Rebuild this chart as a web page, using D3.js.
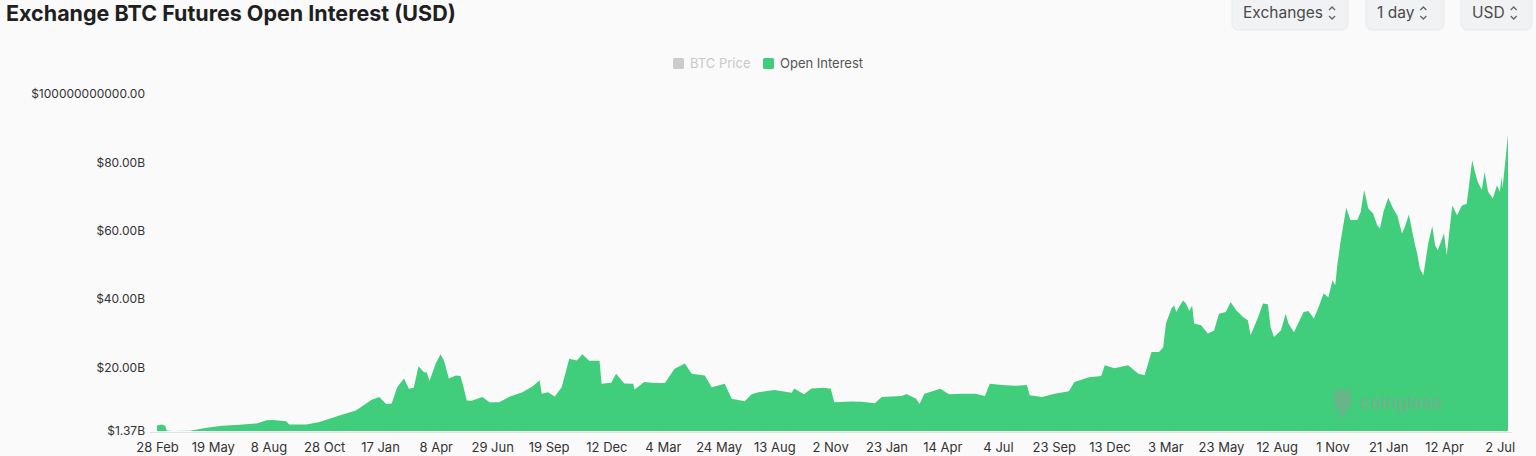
<!DOCTYPE html>
<html><head><meta charset="utf-8">
<script src="https://cdn.jsdelivr.net/npm/d3@7"></script>
<style>
body{margin:0;background:#fafafa;}
svg{display:block;font-family:Inter,"Noto Sans",sans-serif;}
</style>
</head><body>
<svg id="c" width="1536" height="456"></svg>
<script>
// ---- data (open interest in billions USD) ----
const dates = [
"2020-02-28","2020-03-06","2020-03-11","2020-03-13","2020-03-22","2020-04-16","2020-05-10","2020-06-02","2020-06-27","2020-07-22",
"2020-08-05","2020-08-14","2020-09-03","2020-09-07","2020-10-02","2020-10-21","2020-11-19","2020-12-13","2021-01-05","2021-01-16",
"2021-01-26","2021-02-03","2021-02-11","2021-02-21","2021-02-28","2021-03-07","2021-03-14","2021-03-22","2021-03-26","2021-03-30",
"2021-04-08","2021-04-15","2021-04-20","2021-04-27","2021-05-07","2021-05-14","2021-05-19","2021-05-23","2021-05-30","2021-06-15",
"2021-06-25","2021-07-09","2021-07-25","2021-08-12","2021-08-27","2021-09-06","2021-09-09","2021-09-18","2021-09-28","2021-10-08",
"2021-10-19","2021-10-30","2021-11-07","2021-11-17","2021-12-02","2021-12-05","2021-12-19","2021-12-26","2022-01-07","2022-01-20",
"2022-01-22","2022-02-05","2022-02-20","2022-03-07","2022-03-21","2022-04-05","2022-04-15","2022-05-04","2022-05-14","2022-06-02",
"2022-06-12","2022-07-01","2022-07-11","2022-07-21","2022-08-13","2022-09-07","2022-09-11","2022-09-25","2022-10-06","2022-10-24",
"2022-11-03","2022-11-08","2022-12-02","2022-12-18","2023-01-06","2023-01-16","2023-02-14","2023-02-21","2023-03-07","2023-03-12",
"2023-03-19","2023-04-11","2023-04-24","2023-05-13","2023-06-01","2023-06-15","2023-06-22","2023-07-10","2023-07-29","2023-08-15",
"2023-08-19","2023-09-06","2023-09-24","2023-10-15","2023-10-23","2023-11-13","2023-12-01","2023-12-06","2023-12-20","2024-01-09",
"2024-01-24","2024-02-02","2024-02-12","2024-02-23","2024-02-29","2024-03-04","2024-03-12","2024-03-16","2024-03-19","2024-03-23",
"2024-03-29","2024-04-02","2024-04-07","2024-04-11","2024-04-14","2024-04-24","2024-05-04","2024-05-13","2024-05-20","2024-05-30",
"2024-06-06","2024-06-14","2024-06-24","2024-07-01","2024-07-05","2024-07-16","2024-07-23","2024-07-30","2024-08-03","2024-08-08",
"2024-08-18","2024-08-25","2024-08-29","2024-09-06","2024-09-20","2024-09-27","2024-10-05","2024-10-12","2024-10-19","2024-10-26",
"2024-11-01","2024-11-05","2024-11-08","2024-11-13","2024-11-21","2024-11-27","2024-12-07","2024-12-12","2024-12-17","2024-12-23",
"2024-12-30","2025-01-05","2025-01-09","2025-01-14","2025-01-21","2025-01-28","2025-02-03","2025-02-10","2025-02-15","2025-02-20",
"2025-02-25","2025-03-01","2025-03-04","2025-03-08","2025-03-13","2025-03-20","2025-03-26","2025-03-30","2025-04-03","2025-04-12",
"2025-04-16","2025-04-24","2025-05-01","2025-05-08","2025-05-15","2025-05-23","2025-05-27","2025-05-31","2025-06-06","2025-06-10",
"2025-06-15","2025-06-22","2025-06-28","2025-07-02","2025-07-05","2025-07-06","2025-07-14"
];
const openInterest = [
3.0,3.3,2.9,1.5,1.37,1.45,2.3,2.9,3.2,3.6,
4.5,4.6,4.2,3.3,3.3,4.0,5.9,7.4,10.5,11.3,
9.3,9.4,14.2,16.7,13.7,14.0,20.3,18.6,18.5,16.0,
21.1,23.8,22.0,16.7,17.6,17.5,13.7,10.3,10.2,11.3,
9.8,9.8,11.5,12.7,14.5,16.2,12.3,12.7,11.5,14.2,
22.5,22.0,23.8,21.9,21.9,15.2,15.5,18.1,15.3,15.2,
13.5,15.7,15.4,15.4,19.6,21.1,18.1,17.6,14.2,15.2,
10.8,10.1,12.1,12.7,13.4,12.6,13.8,12.1,13.8,14.0,
13.7,9.8,10.0,9.9,9.5,11.3,11.6,12.2,10.8,9.3,
12.3,13.7,12.1,12.3,12.3,11.6,15.2,14.8,14.6,14.8,
11.8,11.3,12.3,13.0,15.7,17.1,17.5,20.6,19.7,20.6,
18.1,17.7,24.5,24.5,25.9,32.8,37.2,38.1,36.2,37.7,
39.6,38.7,36.5,38.1,32.8,32.3,29.9,30.8,35.7,36.2,
39.1,36.7,34.7,33.8,29.4,34.7,38.7,38.5,31.8,28.9,
30.8,35.7,32.8,30.3,36.2,36.5,34.3,37.7,41.6,40.5,
45.5,44.0,49.9,57.2,66.7,63.1,63.1,65.5,71.9,66.5,
65.0,61.6,60.6,65.5,69.6,66.5,64.5,59.2,61.6,64.7,
59.6,55.7,53.3,48.9,46.9,56.2,61.4,55.7,54.3,59.2,
52.8,67.4,64.5,67.4,67.9,80.6,77.2,74.3,71.9,77.2,
71.4,69.4,73.3,71.4,75.8,72.3,88.0
];
const xTickDates = ["2020-02-28","2020-05-19","2020-08-08","2020-10-28","2021-01-17","2021-04-08","2021-06-29","2021-09-19",
"2021-12-12","2022-03-04","2022-05-24","2022-08-13","2022-11-02","2023-01-23","2023-04-14","2023-07-04","2023-09-23",
"2023-12-13","2024-03-03","2024-05-23","2024-08-12","2024-11-01","2025-01-21","2025-04-12","2025-07-02"];
const xTickLabels = ["28 Feb","19 May","8 Aug","28 Oct","17 Jan","8 Apr","29 Jun","19 Sep","12 Dec","4 Mar","24 May",
"13 Aug","2 Nov","23 Jan","14 Apr","4 Jul","23 Sep","13 Dec","3 Mar","23 May","12 Aug","1 Nov","21 Jan","12 Apr","2 Jul"];
const yTickValues = [1.37,20,40,60,80,100];
const yTickLabels = ["$1.37B","$20.00B","$40.00B","$60.00B","$80.00B","$100000000000.00"];
const legendNames = ["BTC Price","Open Interest"];
const controlNames = ["Exchanges","1 day","USD"];

// ---- drawing ----
const parse = d3.timeParse("%Y-%m-%d");
const data = dates.map((d,i)=>({date:parse(d), v:openInterest[i]}));
const svg = d3.select("#c");
const green = "#40cd7c";

const x = d3.scaleTime().domain(d3.extent(data,d=>d.date)).range([157,1508]);
const y = d3.scaleLinear().domain([1.37,100]).range([431,94]);

// title
svg.append("text").attr("x",6).attr("y",21).attr("font-size",21.5).attr("font-weight",700)
  .attr("fill","#1f1f1f").text("Exchange BTC Futures Open Interest (USD)");

// controls
const ctrlBoxes = [[1232,116],[1366,78],[1461,71]];
controlNames.forEach((name,i)=>{
  const [bx,bw] = ctrlBoxes[i];
  const g = svg.append("g").attr("transform",`translate(${bx},0)`);
  g.append("rect").attr("x",0).attr("y",-8).attr("width",bw).attr("height",38).attr("rx",6)
    .attr("fill","#f1f2f4").attr("stroke","#e9eaec");
  const t = g.append("text").attr("x",11).attr("y",18).attr("font-size",15.5).attr("fill","#4a4a4a").text(name);
  const tw = t.node().getComputedTextLength();
  const cx = 11+tw+9;
  g.append("path").attr("d",`M${cx-3},10 L${cx},7 L${cx+3},10 M${cx-3},16 L${cx},19 L${cx+3},16`)
    .attr("fill","none").attr("stroke","#666").attr("stroke-width",1.3);
});

// legend
const legColors = ["#cccccc", green];
const legText = ["#c8c8c8","#555"];
const legX = [673,763];
legendNames.forEach((n,i)=>{
  svg.append("rect").attr("x",legX[i]).attr("y",58).attr("width",11).attr("height",11).attr("rx",1.5).attr("fill",legColors[i]);
  svg.append("text").attr("x",legX[i]+17).attr("y",68).attr("font-size",13).attr("fill",legText[i]).text(n);
});

// area
const area = d3.area().x(d=>x(d.date)).y0(y(1.37)).y1(d=>y(d.v));
svg.append("path").datum(data).attr("d",area).attr("fill",green);

// axis line
svg.append("line").attr("x1",150).attr("x2",1512).attr("y1",432.5).attr("y2",432.5).attr("stroke","#e3e3e3");

// y axis
const yAxis = d3.axisLeft(y).tickValues(yTickValues).tickSize(0).tickPadding(0)
  .tickFormat((d,i)=>yTickLabels[i]);
const ya = svg.append("g").attr("transform","translate(145,0)").call(yAxis);
ya.select(".domain").remove();
ya.selectAll("text").attr("font-size",12).attr("fill","#333").attr("font-family","Inter,'Noto Sans',sans-serif");

// x axis
const xAxis = d3.axisBottom(x).tickValues(xTickDates.map(parse)).tickSize(0).tickPadding(0)
  .tickFormat((d,i)=>xTickLabels[i]);
const xa = svg.append("g").attr("transform","translate(0,443)").call(xAxis);
xa.select(".domain").remove();
xa.selectAll("text").attr("font-size",13).attr("fill","#333").attr("font-family","Inter,'Noto Sans',sans-serif");

// watermark
const wm = svg.append("g").attr("opacity",0.45);
wm.append("path").attr("d","M1334,392 Q1342,386 1351,392 L1351,404 Q1349,410 1345,411 L1345,417 L1340,417 L1340,411 Q1336,410 1334,404 Z").attr("fill","#9a9a9a");
wm.append("text").attr("x",1360).attr("y",409).attr("font-size",19).attr("font-weight",700)
  .attr("textLength",82).attr("lengthAdjust","spacingAndGlyphs").attr("fill","#9a9a9a").text("coinglass");
</script>
</body></html>
